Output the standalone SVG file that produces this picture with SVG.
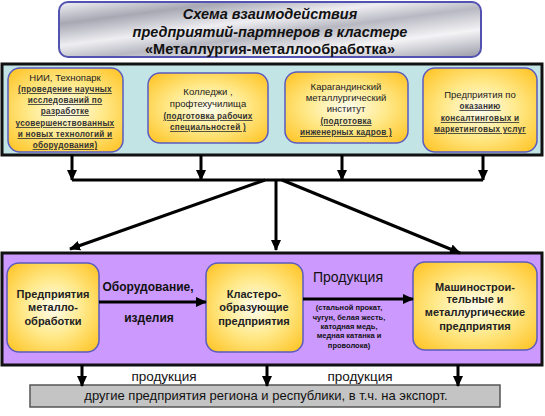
<svg xmlns="http://www.w3.org/2000/svg" width="545" height="416" viewBox="0 0 545 416">
<defs>
<linearGradient id="silver" x1="0" y1="0" x2="1" y2="1">
<stop offset="0" stop-color="#f2f2f6"/>
<stop offset="0.2" stop-color="#a8a8b4"/>
<stop offset="0.4" stop-color="#eeeef2"/>
<stop offset="0.55" stop-color="#b8b8c2"/>
<stop offset="0.75" stop-color="#f4f4f6"/>
<stop offset="1" stop-color="#9a9aa8"/>
</linearGradient>
<radialGradient id="gold" cx="0.5" cy="0.5" r="0.72">
<stop offset="0" stop-color="#fffdf0"/>
<stop offset="0.45" stop-color="#ffe98a"/>
<stop offset="1" stop-color="#ffbf18"/>
</radialGradient>
<marker id="ah" markerUnits="userSpaceOnUse" markerWidth="12" markerHeight="12" refX="10" refY="5" orient="auto" viewBox="0 0 12 10">
<path d="M0,0 L11,5 L0,10 Z" fill="#000"/>
</marker>
</defs>
<style>
.node{fill:url(#gold);stroke:#5b5bc0;stroke-width:1.5}
.t{font-family:"Liberation Sans",Arial,sans-serif;text-anchor:middle;fill:#111}
.r{font-size:9.5px;fill:#222}
.u{font-size:8.2px;font-weight:bold;text-decoration:underline;fill:#333;letter-spacing:0.25px}
.b{font-size:11px;font-weight:bold;fill:#222}
.ln{stroke:#000;stroke-width:3;fill:none}
.ar{stroke:#000;stroke-width:3;fill:none;marker-end:url(#ah)}
</style>
<rect width="545" height="416" fill="#fff"/>

<g id="title">
<rect x="59" y="2" width="422" height="55" rx="9" fill="url(#silver)" stroke="#5252b0" stroke-width="2"/>
<text class="t" x="270" y="19" font-size="14.5" font-weight="bold" font-style="italic">Схема взаимодействия</text>
<text class="t" x="270" y="37" font-size="14.5" font-weight="bold" font-style="italic">предприятий-партнеров в кластере</text>
<text class="t" x="270" y="54" font-size="14.5" font-weight="bold">«Металлургия-металлообработка»</text>
</g>

<g id="top-panel">
<rect x="2" y="64" width="540" height="91" fill="#c2e4e4" stroke="#111" stroke-width="3"/>
</g>

<g id="n1">
<rect class="node" x="8" y="68" width="115" height="84" rx="12"/>
<text class="t r" x="65" y="81">НИИ, Технопарк</text>
<text class="t u" x="65" y="92">(проведение научных</text>
<text class="t u" x="65" y="103">исследований по</text>
<text class="t u" x="65" y="114">разработке</text>
<text class="t u" x="65" y="126">усовершенствованных</text>
<text class="t u" x="65" y="137">и новых технологий и</text>
<text class="t u" x="65" y="148">оборудования)</text>
</g>

<g id="n2">
<rect class="node" x="148" y="73" width="120" height="70" rx="12"/>
<text class="t r" x="208" y="95" font-size="10">Колледжи ,</text>
<text class="t r" x="208" y="107" font-size="10">профтехучилища</text>
<text class="t u" x="208" y="119">(подготовка рабочих</text>
<text class="t u" x="208" y="130">специальностей )</text>
</g>

<g id="n3">
<rect class="node" x="285" y="72" width="123" height="71" rx="12"/>
<text class="t r" x="346" y="90">Карагандинский</text>
<text class="t r" x="346" y="101">металлургический</text>
<text class="t r" x="346" y="112">институт</text>
<text class="t u" x="346" y="124">(подготовка</text>
<text class="t u" x="346" y="135">инженерных кадров )</text>
</g>

<g id="n4">
<rect class="node" x="423" y="68" width="114" height="84" rx="12"/>
<text class="t r" x="480" y="98">Предприятия по</text>
<text class="t u" x="480" y="109">оказанию</text>
<text class="t u" x="480" y="121">консалтинговых и</text>
<text class="t u" x="480" y="132">маркетинговых услуг</text>
</g>

<g id="bottom-panel">
<rect x="2" y="253" width="540" height="112" fill="#cc99ff" stroke="#111" stroke-width="3"/>
</g>

<g id="nA">
<rect class="node" x="7" y="263" width="92" height="89" rx="12"/>
<text class="t b" x="53" y="298">Предприятия</text>
<text class="t b" x="53" y="311">металло-</text>
<text class="t b" x="53" y="325">обработки</text>
</g>

<g id="nB">
<rect class="node" x="206" y="263" width="97" height="89" rx="12"/>
<text class="t b" x="254" y="298">Кластеро-</text>
<text class="t b" x="254" y="311">образующие</text>
<text class="t b" x="254" y="325">предприятия</text>
</g>

<g id="nC">
<rect class="node" x="413" y="262" width="124" height="88" rx="12"/>
<text class="t b" x="475" y="291" font-size="10.5">Машинострои-</text>
<text class="t b" x="475" y="303" font-size="10.5">тельные и</text>
<text class="t b" x="475" y="316" font-size="10.5">металлургические</text>
<text class="t b" x="475" y="330" font-size="10.5">предприятия</text>
</g>

<g id="target">
<rect x="30" y="385" width="470" height="22" fill="#c4c4c4" stroke="#555" stroke-width="1.5"/>
<text class="t" x="266" y="400" font-size="13" fill="#222">другие предприятия региона и республики, в т.ч. на экспорт.</text>
</g>

<g id="connectors">
<path class="ar" d="M72,155 V180"/>
<path class="ar" d="M201,155 V180"/>
<path class="ar" d="M342,155 V180"/>
<path class="ar" d="M483,155 V180"/>
<path class="ln" d="M72,180 H483"/>
<path class="ar" d="M265,180 L70,249"/>
<path class="ar" d="M276,180 V250"/>
<path class="ar" d="M282,180 L460,253"/>
<path class="ar" d="M99,302 H206"/>
<path class="ar" d="M303,299 H413"/>
<path class="ar" d="M82,365 V386"/>
<path class="ar" d="M267,365 V386"/>
<path class="ar" d="M458,365 V386"/>
<text class="t" x="148" y="291" font-size="12" font-weight="bold">Оборудование,</text>
<text class="t" x="149" y="322" font-size="12" font-weight="bold">изделия</text>
<text class="t" x="348" y="282" font-size="14" fill="#333">Продукция</text>
<text class="t" x="349" y="310" font-size="7.5" font-weight="bold">(стальной прокат,</text>
<text class="t" x="349" y="320" font-size="7.5" font-weight="bold">чугун, белая жесть,</text>
<text class="t" x="349" y="329" font-size="7.5" font-weight="bold">катодная медь,</text>
<text class="t" x="349" y="338" font-size="7.5" font-weight="bold">медная катанка и</text>
<text class="t" x="349" y="348" font-size="7.5" font-weight="bold">проволока)</text>
<text class="t" x="164" y="381" font-size="13.5" fill="#333">продукция</text>
<text class="t" x="360" y="381" font-size="13.5" fill="#333">продукция</text>
</g>
</svg>
